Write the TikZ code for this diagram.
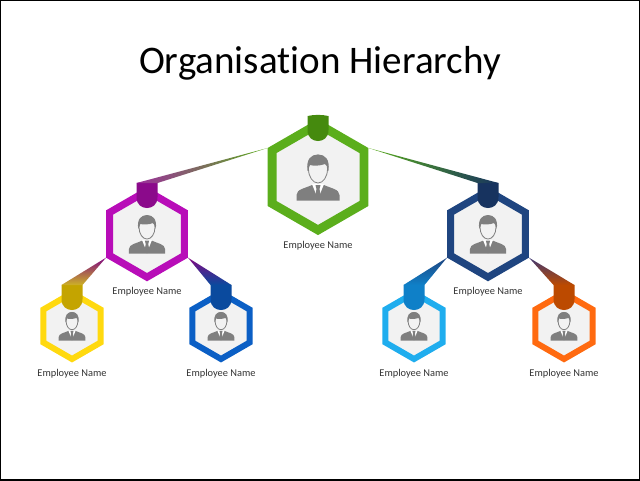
\documentclass[tikz,border=0pt]{standalone}
\usepackage{xcolor}
\usepackage{fontspec}
\setmainfont{Carlito}[Ligatures=NoCommon]
\usetikzlibrary{shapes,positioning,shadows}

\definecolor{greenhex}{HTML}{5BAE1C}
\definecolor{greentab}{HTML}{458A0E}
\definecolor{purplehex}{HTML}{B80DB8}
\definecolor{purpletab}{HTML}{8B0A8B}
\definecolor{navyhex}{HTML}{1F4580}
\definecolor{navytab}{HTML}{17335F}
\definecolor{yellowhex}{HTML}{FFD90F}
\definecolor{yellowtab}{HTML}{C4A400}
\definecolor{bluehex}{HTML}{0B5FC5}
\definecolor{bluetab}{HTML}{0A4A9E}
\definecolor{skyhex}{HTML}{1FADEE}
\definecolor{skytab}{HTML}{0F80C8}
\definecolor{orangehex}{HTML}{FF6A10}
\definecolor{orangetab}{HTML}{BC4A00}
\definecolor{icongray}{HTML}{7F7F7F}

\tikzset{
    hexbox/.style={regular polygon, regular polygon sides=6, shape border rotate=-30, draw, fill=black!5,
        inner sep=0pt, drop shadow={shadow xshift=1.5pt, shadow yshift=-1.5pt, opacity=.3}},
    bighex/.style={hexbox, minimum size=79.5pt, line width=6.6pt},
    midhex/.style={hexbox, minimum size=64.7pt, line width=5.4pt},
    smallhex/.style={hexbox, minimum size=49.5pt, line width=4.5pt},
    namelabel/.style={font=\fontsize{7.8pt}{9pt}\selectfont, text=black!80, inner sep=0pt},
    pics/tabshape/.style={code={
        \fill[#1] (-10.5,0) .. controls (-4,-1.5) and (4,-1.5) .. (10.5,0) -- (10.5,14)
            .. controls (10.5,22) and (5,25) .. (0,25) .. controls (-5,25) and (-10.5,22) .. (-10.5,14) -- cycle;
        \coordinate (-l) at (-10.5,0);
        \coordinate (-r) at (10.5,0);
    }},
    pics/person/.style={code={
        \fill[icongray] (-21.5,23.5) -- (-21.5,18) .. controls (-21.5,12) and (-12,11) .. (-6,8)
            -- (6,8) .. controls (12,11) and (21.5,12) .. (21.5,18) -- (21.5,23.5) -- cycle;
        \fill[white] (-6,7) -- (0,22) -- (6,7) -- cycle;
        \fill[icongray] (-2.5,8) -- (2.5,8) -- (1.5,12) -- (3,20) -- (0,23) -- (-3,20) -- (-1.5,12) -- cycle;
        \draw[icongray, fill=black!5, line width=.6pt] (0,-8) ellipse (9.5 and 14);
        \fill[icongray] (-10.5,-6) .. controls (-12,-18) and (-7,-22.5) .. (0,-22.5)
            .. controls (7,-22.5) and (12,-18) .. (10.5,-6) .. controls (9.5,-10) and (9,-12) .. (7,-13)
            .. controls (2,-11) and (-5,-11) .. (-8,-12) .. controls (-9,-10) and (-9.5,-9) .. (-10.5,-6) -- cycle;
    }}
}

\begin{document}
\begin{tikzpicture}[x=0.75pt, y=-0.75pt]
    \useasboundingbox (0,0) rectangle (640,480);
    \draw[line width=1.5pt] (0,0) rectangle (640,480);

    \node (title) at (320,63) {\fontsize{29.3pt}{34pt}\selectfont Organisation Hierarchy};

    % hexagons
    \node (ceo) [bighex, draw=greenhex] at (318,177) {};
    \node (left) [midhex, draw=purplehex] at (147,234) {};
    \node (right) [midhex, draw=navyhex] at (488,234) {};
    \node (leftA) [smallhex, draw=yellowhex] at (72,326) {};
    \node (leftB) [smallhex, draw=bluehex] at (221,326) {};
    \node (rightA) [smallhex, draw=skyhex] at (414,326) {};
    \node (rightB) [smallhex, draw=orangehex] at (564,326) {};

    % tabs
    \pic (tabceo) at (318,116) {tabshape=greentab};
    \pic (tableft) at (147,183) {tabshape=purpletab};
    \pic (tabright) at (488,183) {tabshape=navytab};
    \pic (tableftA) at (72,285) {tabshape=yellowtab};
    \pic (tableftB) at (221,285) {tabshape=bluetab};
    \pic (tabrightA) at (414,285) {tabshape=skytab};
    \pic (tabrightB) at (564,285) {tabshape=orangetab};

    % connectors
    \shade[left color=purpletab!85!white, right color=greenhex] (tableft-l) -- (tableft-r) -- (ceo.corner 3) -- cycle;
    \shade[left color=greenhex, right color=navytab] (tabright-r) -- (tabright-l) -- (ceo.corner 1) -- cycle;
    \shade[top color=purplehex!70!black, bottom color=yellowtab!85!white] (tableftA-l) -- (tableftA-r) -- (left.corner 4) -- cycle;
    \shade[top color=purplehex!70!black, bottom color=bluetab] (tableftB-l) -- (tableftB-r) -- (left.corner 6) -- cycle;
    \shade[top color=navyhex, bottom color=skytab] (tabrightA-l) -- (tabrightA-r) -- (right.corner 4) -- cycle;
    \shade[top color=navyhex!80!purple, bottom color=orangetab] (tabrightB-l) -- (tabrightB-r) -- (right.corner 6) -- cycle;

    % icons
    \pic at (318,177) {person};
    \pic[scale=.84] at (147,234) {person};
    \pic[scale=.84] at (488,234) {person};
    \pic[scale=.62] at (72,326) {person};
    \pic[scale=.62] at (221,326) {person};
    \pic[scale=.62] at (414,326) {person};
    \pic[scale=.62] at (564,326) {person};

    % names
    \node (nameceo) [namelabel, below=4.5pt of ceo] {Employee Name};
    \node (nameleft) [namelabel, below=4.5pt of left] {Employee Name};
    \node (nameright) [namelabel, below=4.5pt of right] {Employee Name};
    \node (nameleftA) [namelabel, below=5pt of leftA] {Employee Name};
    \node (nameleftB) [namelabel, below=5pt of leftB] {Employee Name};
    \node (namerightA) [namelabel, below=5pt of rightA] {Employee Name};
    \node (namerightB) [namelabel, below=5pt of rightB] {Employee Name};
\end{tikzpicture}
\end{document}
